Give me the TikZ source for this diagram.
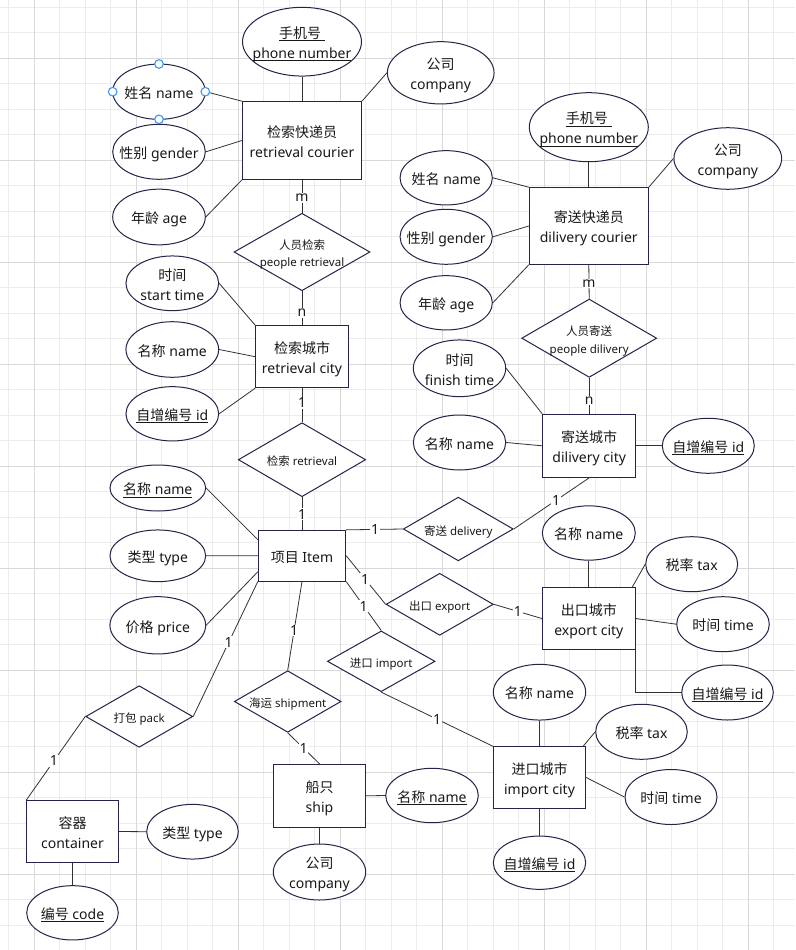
\documentclass[tikz,border=0pt]{standalone}
\usepackage{fontspec}
\setmainfont{Noto Sans}
\newfontfamily\cjkfont{Noto Sans CJK SC}
\usetikzlibrary{shapes.geometric}
\newcommand\Z[1]{{\cjkfont #1}}
\newcommand\uline[1]{\setbox0\hbox{#1}\rlap{\rule[-2.8pt]{\wd0}{0.9pt}}\box0}
\newcommand\tx[1]{\makebox[0pt]{\raisebox{\dimexpr-0.25em-2.8pt\relax}[0pt][0pt]{\begin{tabular}{@{}c@{}}#1\end{tabular}}}}
\definecolor{shapecol}{RGB}{36,36,72}
\definecolor{linecol}{RGB}{50,50,50}
\definecolor{txtcol}{RGB}{25,25,25}
\definecolor{gridminor}{RGB}{236,236,236}
\definecolor{gridmajor}{RGB}{216,216,216}
\definecolor{handlecol}{RGB}{60,150,245}
\tikzset{
  sz/.style 2 args={minimum width=#1pt, minimum height=#2pt},
  ent/.style={rectangle, draw=shapecol, fill=white, line width=1pt, inner sep=0pt, text=txtcol, font=\fontsize{14}{20}\selectfont},
  attr/.style={ellipse, draw=shapecol, fill=white, line width=1pt, inner sep=0pt, text=txtcol, font=\fontsize{14}{20}\selectfont},
  rel/.style={diamond, draw=shapecol, fill=white, line width=1pt, inner sep=0pt, text=txtcol, font=\fontsize{11.5}{17.5}\selectfont},
  conn/.style={draw=linecol, line width=0.8pt},
  lbl/.style={fill=white, inner sep=0.8pt, text=txtcol, font=\fontsize{14}{16}\selectfont},
  handle/.style={draw=handlecol, fill=white, line width=1.1pt}
}
\begin{document}
\begin{tikzpicture}[x=1pt,y=-1pt]
\useasboundingbox (0,0) rectangle (795,950);
\fill[white] (0,0) rectangle (795,950);
% grid
\foreach \k in {-1,...,29} {\draw[gridminor, line width=1pt] ({34.3+25.5*\k},0) -- ({34.3+25.5*\k},950);}
\foreach \k in {-2,...,34} {\draw[gridminor, line width=1pt] (0,{58.3+25.5*\k}) -- (795,{58.3+25.5*\k});}
\foreach \k in {0,...,7} {\draw[gridmajor, line width=1pt] ({34.3+102*\k},0) -- ({34.3+102*\k},950);}
\foreach \k in {0,...,8} {\draw[gridmajor, line width=1pt] (0,{58.3+102*\k}) -- (795,{58.3+102*\k});}

% ---- retrieval courier
\node[ent, sz={119}{77.6}] (rc) at (302,140.5) {\tx{\Z{检索快递员}\\retrieval courier}};
\node[attr, sz={119}{68.7}] (rcph) at (302,41.7) {\tx{\uline{\Z{手机号}\ }\\\uline{phone number}}};
\node[attr, sz={106.7}{62.3}] (rccomp) at (440.7,72.8) {\tx{\Z{公司}\\company}};
\node[attr, sz={92.6}{55.3}] (rcname) at (159,91.7) {\tx{\Z{姓名} name}};
\node[attr, sz={92.6}{55}] (rcgen) at (159,151.8) {\tx{\Z{性别} gender}};
\node[attr, sz={92.6}{55.7}] (rcage) at (159,217) {\tx{\Z{年龄} age}};
\node[rel, sz={136}{77.4}] (pr) at (302,252) {\tx{\Z{人员检索}\\people retrieval}};

% ---- retrieval city
\node[ent, sz={92.6}{62}] (rcity) at (302,356.7) {\tx{\Z{检索城市}\\retrieval city}};
\node[attr, sz={92.7}{54.7}] (rst) at (172.3,283.3) {\tx{\Z{时间}\\start time}};
\node[attr, sz={92.7}{55.6}] (rcn) at (172.3,349.5) {\tx{\Z{名称} name}};
\node[attr, sz={92.7}{54.3}] (rcid) at (172.3,413.8) {\tx{\uline{\Z{自增编号} id}}};
\node[rel, sz={127.4}{74}] (ret) at (302,459.7) {\tx{\Z{检索} retrieval}};

% ---- item
\node[ent, sz={87.4}{50.7}] (item) at (302,555.7) {\tx{\Z{项目} Item}};
\node[attr, sz={95.7}{46}] (inm) at (157.8,488) {\tx{\uline{\Z{名称} name}}};
\node[attr, sz={95.7}{51.7}] (ity) at (157.8,555.8) {\tx{\Z{类型} type}};
\node[attr, sz={95.7}{57.3}] (ipr) at (157.8,625.3) {\tx{\Z{价格} price}};

% ---- delivery courier
\node[ent, sz={119}{76.6}] (dc) at (588.8,226) {\tx{\Z{寄送快递员}\\dilivery courier}};
\node[attr, sz={119}{69}] (dcph) at (588.8,127.2) {\tx{\uline{\Z{手机号}\ }\\\uline{phone number}}};
\node[attr, sz={107.7}{61.6}] (dccomp) at (727.8,158.5) {\tx{\Z{公司}\\company}};
\node[attr, sz={92.3}{54.3}] (dcname) at (446.2,177.8) {\tx{\Z{姓名} name}};
\node[attr, sz={92.3}{55}] (dcgen) at (446.2,236.8) {\tx{\Z{性别} gender}};
\node[attr, sz={92.3}{54.3}] (dcage) at (446.2,302.8) {\tx{\Z{年龄} age}};
\node[rel, sz={135}{78.3}] (pd) at (589.2,338.2) {\tx{\Z{人员寄送}\\people dilivery}};

% ---- delivery city
\node[ent, sz={93}{63}] (dcity) at (589.2,445.8) {\tx{\Z{寄送城市}\\dilivery city}};
\node[attr, sz={92.4}{56.7}] (dft) at (459.5,368.3) {\tx{\Z{时间}\\finish time}};
\node[attr, sz={92.4}{55}] (dcn) at (459.5,442.5) {\tx{\Z{名称} name}};
\node[attr, sz={92}{55}] (dcid) at (708.3,445.8) {\tx{\uline{\Z{自增编号} id}}};
\node[rel, sz={110}{63.7}] (dd) at (458.3,529) {\tx{\Z{寄送} delivery}};

% ---- export
\node[rel, sz={107.3}{62}] (ex) at (439.7,604.3) {\tx{\Z{出口} export}};
\node[ent, sz={93}{61.6}] (ecity) at (588.8,618.5) {\tx{\Z{出口城市}\\export city}};
\node[attr, sz={93}{54.3}] (ecn) at (588.8,533) {\tx{\Z{名称} name}};
\node[attr, sz={92}{55}] (etax) at (691.7,564.2) {\tx{\Z{税率} tax}};
\node[attr, sz={92.6}{55}] (etime) at (723,624.2) {\tx{\Z{时间} time}};
\node[attr, sz={91.6}{55}] (eid) at (727.5,692.5) {\tx{\uline{\Z{自增编号} id}}};

% ---- import
\node[rel, sz={107.7}{60.7}] (im) at (381.2,661.3) {\tx{\Z{进口} import}};
\node[ent, sz={92.4}{61.6}] (icity) at (539.5,777.5) {\tx{\Z{进口城市}\\import city}};
\node[attr, sz={92.4}{55.7}] (icn) at (539.5,692.2) {\tx{\Z{名称} name}};
\node[attr, sz={91.6}{55}] (itax) at (641.5,731.8) {\tx{\Z{税率} tax}};
\node[attr, sz={92}{55}] (itime) at (671,797) {\tx{\Z{时间} time}};
\node[attr, sz={92.4}{53.3}] (iid) at (539.5,862.7) {\tx{\uline{\Z{自增编号} id}}};

% ---- shipment
\node[rel, sz={106.7}{61.6}] (sh) at (287.7,701.5) {\tx{\Z{海运} shipment}};
\node[ent, sz={92.4}{63}] (ship) at (319.5,795.8) {\tx{\Z{船只}\\ship}};
\node[attr, sz={92.6}{54.4}] (snm) at (432,795.5) {\tx{\uline{\Z{名称} name}}};
\node[attr, sz={92.4}{56}] (scomp) at (319.5,872) {\tx{\Z{公司}\\company}};

% ---- pack
\node[rel, sz={107}{61.6}] (pack) at (139.2,716.5) {\tx{\Z{打包} pack}};
\node[ent, sz={91.6}{61.6}] (cont) at (72.5,831.5) {\tx{\Z{容器}\\container}};
\node[attr, sz={91.6}{54.7}] (ctype) at (192.5,831.7) {\tx{\Z{类型} type}};
\node[attr, sz={91.6}{54.3}] (ccode) at (72.5,912.8) {\tx{\uline{\Z{编号} code}}};

% ---- attribute connectors
\draw[conn] (rcph) -- (rc);
\draw[conn] (rccomp.west) -- (rc.north east);
\draw[conn] (rcname.east) -- (rc.north west);
\draw[conn] (rcgen.east) -- (rc.west);
\draw[conn] (rcage.east) -- (rc.south west);
\draw[conn] (rst.east) -- (rcity.north west);
\draw[conn] (rcn.east) -- (rcity.west);
\draw[conn] (rcid.east) -- (rcity.south west);
\draw[conn] (inm.east) -- (item.160);
\draw[conn] (ity.east) -- (item.west);
\draw[conn] (ipr.east) -- (item.200);
\draw[conn] (dcph) -- (dc);
\draw[conn] (dccomp.west) -- (dc.north east);
\draw[conn] (dcname.east) -- (dc.north west);
\draw[conn] (dcgen.east) -- (dc.west);
\draw[conn] (dcage.east) -- (dc.south west);
\draw[conn] (dft.east) -- (dcity.north west);
\draw[conn] (dcn.east) -- (dcity.west);
\draw[conn] (dcity.east) -- (dcid.west);
\draw[conn] (ecn) -- (ecity);
\draw[conn] (etax.west) -- ([xshift=-3.6pt]ecity.north east);
\draw[conn] (ecity.east) -- (etime.west);
\draw[conn] (ecity.south east) |- (eid.west);
\draw[conn] (icn) -- (icity);
\draw[conn] (itax.west) -- ([xshift=-3pt]icity.north east);
\draw[conn] (icity.east) -- (itime.west);
\draw[conn] (icity) -- (iid);
\draw[conn] (ship.east) -- (snm.west);
\draw[conn] (ship) -- (scomp);
\draw[conn] (cont.east) -- (ctype.west);
\draw[conn] (cont) -- (ccode);

% ---- relationship connectors
\draw[conn] (rc.south) -- node[lbl,pos=.55]{m} (pr.north);
\draw[conn] (pr.south) -- node[lbl,pos=.64]{n} (rcity.north);
\draw[conn] (rcity.south) -- node[lbl,pos=.43]{1} (ret.north);
\draw[conn] (ret.south) -- node[lbl,pos=.52]{1} (item.north);
\draw[conn] (dc.south) -- node[lbl,pos=.55]{m} (pd.north);
\draw[conn] (pd.south) -- node[lbl,pos=.64]{n} (dcity.north);
\draw[conn] (item.north east) -- node[lbl,pos=.51]{1} (dd.west);
\draw[conn] (dd.east) -- node[lbl,pos=.56]{1} (dcity.south);
\draw[conn] (item.east) -- node[lbl,pos=.48]{1} (ex.west);
\draw[conn] (ex.east) -- node[lbl,pos=.5]{1} (ecity.west);
\draw[conn] (item.south east) -- node[lbl,pos=.5]{1} (im.north);
\draw[conn] (im.south) -- node[lbl,pos=.5]{1} (icity.north west);
\draw[conn] (item.south) -- node[lbl,pos=.55]{1} (sh.north);
\draw[conn] (sh.south) -- node[lbl,pos=.5]{1} (ship.north);
\draw[conn] (item.south west) -- node[lbl,pos=.45]{1} (pack.east);
\draw[conn] (pack.west) -- node[lbl,pos=.53]{1} (cont.north west);

% ---- selection handles
\foreach \p in {(112.7,91.7),(205.3,91.7),(159,64),(159,119.3)} {\draw[handle] \p circle (4.3pt);}
\end{tikzpicture}
\end{document}
